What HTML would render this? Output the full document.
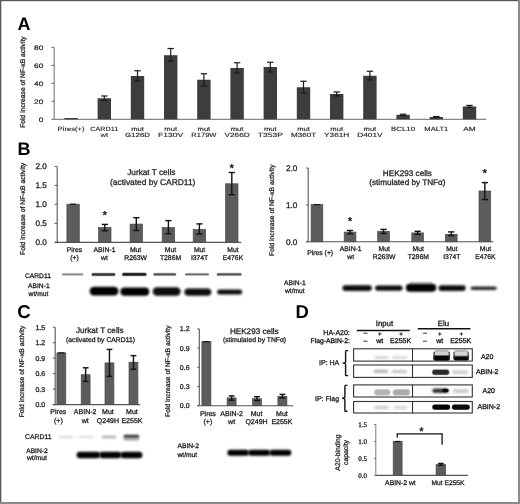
<!DOCTYPE html>
<html><head><meta charset="utf-8"><title>Figure</title>
<style>html,body{margin:0;padding:0;background:#fff;}body{width:520px;height:504px;overflow:hidden;}svg{display:block;}</style>
</head><body>
<svg width="520" height="504" viewBox="0 0 520 504" text-rendering="geometricPrecision" font-family='"Liberation Sans", Arial, Helvetica, sans-serif'>
<defs>
<filter id="b3" x="-30%" y="-150%" width="160%" height="400%"><feGaussianBlur stdDeviation="0.3"/></filter>
<filter id="b4" x="-30%" y="-150%" width="160%" height="400%"><feGaussianBlur stdDeviation="0.4"/></filter>
<filter id="b5" x="-30%" y="-150%" width="160%" height="400%"><feGaussianBlur stdDeviation="0.5"/></filter>
<filter id="b6" x="-30%" y="-150%" width="160%" height="400%"><feGaussianBlur stdDeviation="0.6"/></filter>
<filter id="b7" x="-30%" y="-150%" width="160%" height="400%"><feGaussianBlur stdDeviation="0.7"/></filter>
<filter id="b8" x="-30%" y="-150%" width="160%" height="400%"><feGaussianBlur stdDeviation="0.8"/></filter>
<filter id="b9" x="-30%" y="-150%" width="160%" height="400%"><feGaussianBlur stdDeviation="0.9"/></filter>
<filter id="b10" x="-30%" y="-150%" width="160%" height="400%"><feGaussianBlur stdDeviation="1.0"/></filter>
<filter id="b12" x="-30%" y="-150%" width="160%" height="400%"><feGaussianBlur stdDeviation="1.2"/></filter>
<filter id="b15" x="-30%" y="-150%" width="160%" height="400%"><feGaussianBlur stdDeviation="1.5"/></filter>
<filter id="b20" x="-30%" y="-150%" width="160%" height="400%"><feGaussianBlur stdDeviation="2.0"/></filter>
</defs>
<rect x="0.00" y="0.00" width="520.00" height="504.00" fill="#ffffff"/>
<rect x="0.00" y="0.00" width="520.00" height="1.20" fill="#555"/>
<rect x="0.00" y="0.00" width="1.30" height="504.00" fill="#555"/>
<rect x="518.00" y="0.00" width="2.00" height="504.00" fill="#8a8a8a"/>
<rect x="0.00" y="502.00" width="520.00" height="2.00" fill="#8a8a8a"/>
<text x="17.60" y="30.00" font-size="18" font-weight="bold" fill="#000">A</text>
<line x1="54.20" y1="47.40" x2="54.20" y2="119.30" stroke="#6a6a6a" stroke-width="1"/>
<line x1="54.20" y1="119.30" x2="486.30" y2="119.30" stroke="#6a6a6a" stroke-width="1"/>
<line x1="51.40" y1="119.30" x2="54.20" y2="119.30" stroke="#6a6a6a" stroke-width="1"/>
<text x="43.30" y="121.60" font-size="6.4" text-anchor="end" textLength="4.65" lengthAdjust="spacingAndGlyphs" fill="#222" stroke="#222" stroke-width="0.2">0</text>
<line x1="51.40" y1="101.32" x2="54.20" y2="101.32" stroke="#6a6a6a" stroke-width="1"/>
<text x="43.30" y="103.62" font-size="6.4" text-anchor="end" textLength="9.3" lengthAdjust="spacingAndGlyphs" fill="#222" stroke="#222" stroke-width="0.2">20</text>
<line x1="51.40" y1="83.35" x2="54.20" y2="83.35" stroke="#6a6a6a" stroke-width="1"/>
<text x="43.30" y="85.65" font-size="6.4" text-anchor="end" textLength="9.3" lengthAdjust="spacingAndGlyphs" fill="#222" stroke="#222" stroke-width="0.2">40</text>
<line x1="51.40" y1="65.38" x2="54.20" y2="65.38" stroke="#6a6a6a" stroke-width="1"/>
<text x="43.30" y="67.67" font-size="6.4" text-anchor="end" textLength="9.3" lengthAdjust="spacingAndGlyphs" fill="#222" stroke="#222" stroke-width="0.2">60</text>
<line x1="51.40" y1="47.40" x2="54.20" y2="47.40" stroke="#6a6a6a" stroke-width="1"/>
<text x="43.30" y="49.70" font-size="6.4" text-anchor="end" textLength="9.3" lengthAdjust="spacingAndGlyphs" fill="#222" stroke="#222" stroke-width="0.2">80</text>
<text transform="translate(23.4,82.1) rotate(-90)" x="0" y="0" font-size="6.75" text-anchor="middle" dominant-baseline="central" fill="#222" stroke="#222" stroke-width="0.28">Fold increase of NF-κB activity</text>
<rect x="64.40" y="118.00" width="13.40" height="1.30" fill="#3d3d3d"/>
<text x="71.10" y="131.20" font-size="6.1" text-anchor="middle" textLength="27" lengthAdjust="spacingAndGlyphs" fill="#222" stroke="#222" stroke-width="0.12">Pires(+)</text>
<rect x="97.60" y="98.25" width="13.40" height="21.05" fill="#3d3d3d"/>
<line x1="104.30" y1="96.00" x2="104.30" y2="100.50" stroke="#1a1a1a" stroke-width="1.2"/>
<line x1="101.10" y1="96.00" x2="107.50" y2="96.00" stroke="#1a1a1a" stroke-width="1.2"/>
<line x1="101.10" y1="100.50" x2="107.50" y2="100.50" stroke="#1a1a1a" stroke-width="1.2"/>
<text x="104.30" y="131.20" font-size="6.1" text-anchor="middle" textLength="28" lengthAdjust="spacingAndGlyphs" fill="#222" stroke="#222" stroke-width="0.12">CARD11</text>
<text x="104.30" y="136.90" font-size="6.1" text-anchor="middle" textLength="7.5" lengthAdjust="spacingAndGlyphs" fill="#222" stroke="#222" stroke-width="0.12">wt</text>
<rect x="130.80" y="76.00" width="13.40" height="43.30" fill="#3d3d3d"/>
<line x1="137.50" y1="70.75" x2="137.50" y2="81.00" stroke="#1a1a1a" stroke-width="1.2"/>
<line x1="134.30" y1="70.75" x2="140.70" y2="70.75" stroke="#1a1a1a" stroke-width="1.2"/>
<line x1="134.30" y1="81.00" x2="140.70" y2="81.00" stroke="#1a1a1a" stroke-width="1.2"/>
<text x="137.50" y="131.20" font-size="6.1" text-anchor="middle" textLength="12.7" lengthAdjust="spacingAndGlyphs" fill="#222" stroke="#222" stroke-width="0.12">mut</text>
<text x="137.50" y="136.90" font-size="6.1" text-anchor="middle" textLength="25.2" lengthAdjust="spacingAndGlyphs" fill="#222" stroke="#222" stroke-width="0.12">G126D</text>
<rect x="164.00" y="55.20" width="13.40" height="64.10" fill="#3d3d3d"/>
<line x1="170.70" y1="48.50" x2="170.70" y2="61.10" stroke="#1a1a1a" stroke-width="1.2"/>
<line x1="167.50" y1="48.50" x2="173.90" y2="48.50" stroke="#1a1a1a" stroke-width="1.2"/>
<line x1="167.50" y1="61.10" x2="173.90" y2="61.10" stroke="#1a1a1a" stroke-width="1.2"/>
<text x="170.70" y="131.20" font-size="6.1" text-anchor="middle" textLength="12.7" lengthAdjust="spacingAndGlyphs" fill="#222" stroke="#222" stroke-width="0.12">mut</text>
<text x="170.70" y="136.90" font-size="6.1" text-anchor="middle" textLength="25.2" lengthAdjust="spacingAndGlyphs" fill="#222" stroke="#222" stroke-width="0.12">F130V</text>
<rect x="197.20" y="79.75" width="13.40" height="39.55" fill="#3d3d3d"/>
<line x1="203.90" y1="73.75" x2="203.90" y2="86.00" stroke="#1a1a1a" stroke-width="1.2"/>
<line x1="200.70" y1="73.75" x2="207.10" y2="73.75" stroke="#1a1a1a" stroke-width="1.2"/>
<line x1="200.70" y1="86.00" x2="207.10" y2="86.00" stroke="#1a1a1a" stroke-width="1.2"/>
<text x="203.90" y="131.20" font-size="6.1" text-anchor="middle" textLength="12.7" lengthAdjust="spacingAndGlyphs" fill="#222" stroke="#222" stroke-width="0.12">mut</text>
<text x="203.90" y="136.90" font-size="6.1" text-anchor="middle" textLength="25.2" lengthAdjust="spacingAndGlyphs" fill="#222" stroke="#222" stroke-width="0.12">R179W</text>
<rect x="230.40" y="68.00" width="13.40" height="51.30" fill="#3d3d3d"/>
<line x1="237.10" y1="62.75" x2="237.10" y2="73.00" stroke="#1a1a1a" stroke-width="1.2"/>
<line x1="233.90" y1="62.75" x2="240.30" y2="62.75" stroke="#1a1a1a" stroke-width="1.2"/>
<line x1="233.90" y1="73.00" x2="240.30" y2="73.00" stroke="#1a1a1a" stroke-width="1.2"/>
<text x="237.10" y="131.20" font-size="6.1" text-anchor="middle" textLength="12.7" lengthAdjust="spacingAndGlyphs" fill="#222" stroke="#222" stroke-width="0.12">mut</text>
<text x="237.10" y="136.90" font-size="6.1" text-anchor="middle" textLength="25.2" lengthAdjust="spacingAndGlyphs" fill="#222" stroke="#222" stroke-width="0.12">V266D</text>
<rect x="263.60" y="67.00" width="13.40" height="52.30" fill="#3d3d3d"/>
<line x1="270.30" y1="62.25" x2="270.30" y2="72.00" stroke="#1a1a1a" stroke-width="1.2"/>
<line x1="267.10" y1="62.25" x2="273.50" y2="62.25" stroke="#1a1a1a" stroke-width="1.2"/>
<line x1="267.10" y1="72.00" x2="273.50" y2="72.00" stroke="#1a1a1a" stroke-width="1.2"/>
<text x="270.30" y="131.20" font-size="6.1" text-anchor="middle" textLength="12.7" lengthAdjust="spacingAndGlyphs" fill="#222" stroke="#222" stroke-width="0.12">mut</text>
<text x="270.30" y="136.90" font-size="6.1" text-anchor="middle" textLength="25.2" lengthAdjust="spacingAndGlyphs" fill="#222" stroke="#222" stroke-width="0.12">T353P</text>
<rect x="296.80" y="87.25" width="13.40" height="32.05" fill="#3d3d3d"/>
<line x1="303.50" y1="81.25" x2="303.50" y2="93.00" stroke="#1a1a1a" stroke-width="1.2"/>
<line x1="300.30" y1="81.25" x2="306.70" y2="81.25" stroke="#1a1a1a" stroke-width="1.2"/>
<line x1="300.30" y1="93.00" x2="306.70" y2="93.00" stroke="#1a1a1a" stroke-width="1.2"/>
<text x="303.50" y="131.20" font-size="6.1" text-anchor="middle" textLength="12.7" lengthAdjust="spacingAndGlyphs" fill="#222" stroke="#222" stroke-width="0.12">mut</text>
<text x="303.50" y="136.90" font-size="6.1" text-anchor="middle" textLength="25.2" lengthAdjust="spacingAndGlyphs" fill="#222" stroke="#222" stroke-width="0.12">M360T</text>
<rect x="330.00" y="94.00" width="13.40" height="25.30" fill="#3d3d3d"/>
<line x1="336.70" y1="92.00" x2="336.70" y2="96.00" stroke="#1a1a1a" stroke-width="1.2"/>
<line x1="333.50" y1="92.00" x2="339.90" y2="92.00" stroke="#1a1a1a" stroke-width="1.2"/>
<line x1="333.50" y1="96.00" x2="339.90" y2="96.00" stroke="#1a1a1a" stroke-width="1.2"/>
<text x="336.70" y="131.20" font-size="6.1" text-anchor="middle" textLength="12.7" lengthAdjust="spacingAndGlyphs" fill="#222" stroke="#222" stroke-width="0.12">mut</text>
<text x="336.70" y="136.90" font-size="6.1" text-anchor="middle" textLength="25.2" lengthAdjust="spacingAndGlyphs" fill="#222" stroke="#222" stroke-width="0.12">Y361H</text>
<rect x="363.20" y="75.75" width="13.40" height="43.55" fill="#3d3d3d"/>
<line x1="369.90" y1="71.25" x2="369.90" y2="80.00" stroke="#1a1a1a" stroke-width="1.2"/>
<line x1="366.70" y1="71.25" x2="373.10" y2="71.25" stroke="#1a1a1a" stroke-width="1.2"/>
<line x1="366.70" y1="80.00" x2="373.10" y2="80.00" stroke="#1a1a1a" stroke-width="1.2"/>
<text x="369.90" y="131.20" font-size="6.1" text-anchor="middle" textLength="12.7" lengthAdjust="spacingAndGlyphs" fill="#222" stroke="#222" stroke-width="0.12">mut</text>
<text x="369.90" y="136.90" font-size="6.1" text-anchor="middle" textLength="25.2" lengthAdjust="spacingAndGlyphs" fill="#222" stroke="#222" stroke-width="0.12">D401V</text>
<rect x="396.40" y="114.80" width="13.40" height="4.50" fill="#3d3d3d"/>
<line x1="403.10" y1="114.20" x2="403.10" y2="115.60" stroke="#1a1a1a" stroke-width="1.2"/>
<line x1="399.90" y1="114.20" x2="406.30" y2="114.20" stroke="#1a1a1a" stroke-width="1.2"/>
<line x1="399.90" y1="115.60" x2="406.30" y2="115.60" stroke="#1a1a1a" stroke-width="1.2"/>
<text x="403.10" y="131.20" font-size="6.1" text-anchor="middle" textLength="24" lengthAdjust="spacingAndGlyphs" fill="#222" stroke="#222" stroke-width="0.12">BCL10</text>
<rect x="429.60" y="117.00" width="13.40" height="2.30" fill="#3d3d3d"/>
<line x1="436.30" y1="116.50" x2="436.30" y2="117.40" stroke="#1a1a1a" stroke-width="1.2"/>
<line x1="433.10" y1="116.50" x2="439.50" y2="116.50" stroke="#1a1a1a" stroke-width="1.2"/>
<line x1="433.10" y1="117.40" x2="439.50" y2="117.40" stroke="#1a1a1a" stroke-width="1.2"/>
<text x="436.30" y="131.20" font-size="6.1" text-anchor="middle" textLength="24" lengthAdjust="spacingAndGlyphs" fill="#222" stroke="#222" stroke-width="0.12">MALT1</text>
<rect x="462.80" y="106.50" width="13.40" height="12.80" fill="#3d3d3d"/>
<line x1="469.50" y1="105.40" x2="469.50" y2="107.40" stroke="#1a1a1a" stroke-width="1.2"/>
<line x1="466.30" y1="105.40" x2="472.70" y2="105.40" stroke="#1a1a1a" stroke-width="1.2"/>
<line x1="466.30" y1="107.40" x2="472.70" y2="107.40" stroke="#1a1a1a" stroke-width="1.2"/>
<text x="469.50" y="131.20" font-size="6.1" text-anchor="middle" textLength="12.5" lengthAdjust="spacingAndGlyphs" fill="#222" stroke="#222" stroke-width="0.12">AM</text>
<text x="17.60" y="154.70" font-size="18" font-weight="bold" fill="#000">B</text>
<line x1="57.20" y1="166.40" x2="57.20" y2="242.30" stroke="#555" stroke-width="1.1"/>
<line x1="54.60" y1="242.30" x2="241.20" y2="242.30" stroke="#555" stroke-width="1.2"/>
<line x1="54.60" y1="242.30" x2="57.20" y2="242.30" stroke="#555" stroke-width="1"/>
<text x="46.90" y="245.20" font-size="8.2" text-anchor="end" fill="#222" stroke="#222" stroke-width="0.28">0.0</text>
<line x1="54.60" y1="223.33" x2="57.20" y2="223.33" stroke="#555" stroke-width="1"/>
<text x="46.90" y="226.23" font-size="8.2" text-anchor="end" fill="#222" stroke="#222" stroke-width="0.28">0.5</text>
<line x1="54.60" y1="204.35" x2="57.20" y2="204.35" stroke="#555" stroke-width="1"/>
<text x="46.90" y="207.25" font-size="8.2" text-anchor="end" fill="#222" stroke="#222" stroke-width="0.28">1.0</text>
<line x1="54.60" y1="185.38" x2="57.20" y2="185.38" stroke="#555" stroke-width="1"/>
<text x="46.90" y="188.28" font-size="8.2" text-anchor="end" fill="#222" stroke="#222" stroke-width="0.28">1.5</text>
<line x1="54.60" y1="166.40" x2="57.20" y2="166.40" stroke="#555" stroke-width="1"/>
<text x="46.90" y="169.30" font-size="8.2" text-anchor="end" fill="#222" stroke="#222" stroke-width="0.28">2.0</text>
<text transform="translate(23.3,208.9) rotate(-90)" x="0" y="0" font-size="6.8" text-anchor="middle" dominant-baseline="central" fill="#222" stroke="#222" stroke-width="0.28">Fold increase of NF-κB activity</text>
<text x="151.30" y="175.20" font-size="8.24" text-anchor="middle" fill="#222" stroke="#222" stroke-width="0.28">Jurkat T cells</text>
<text x="152.70" y="184.60" font-size="8.42" text-anchor="middle" fill="#222" stroke="#222" stroke-width="0.28">(activated by CARD11)</text>
<rect x="66.90" y="204.20" width="12.40" height="38.10" fill="#5c5c5c" stroke="#4a4a4a" stroke-width="0.7"/>
<line x1="70.10" y1="204.20" x2="76.10" y2="204.20" stroke="#111" stroke-width="1.2"/>
<text x="74.50" y="251.80" font-size="6.8" text-anchor="middle" fill="#222" stroke="#222" stroke-width="0.28">Pires</text>
<text x="74.50" y="259.70" font-size="6.8" text-anchor="middle" fill="#222" stroke="#222" stroke-width="0.28">(+)</text>
<rect x="98.60" y="227.50" width="12.40" height="14.80" fill="#5c5c5c" stroke="#4a4a4a" stroke-width="0.7"/>
<line x1="104.80" y1="224.40" x2="104.80" y2="230.80" stroke="#111" stroke-width="1.4"/>
<line x1="101.70" y1="224.40" x2="107.90" y2="224.40" stroke="#111" stroke-width="1.4"/>
<line x1="101.70" y1="230.80" x2="107.90" y2="230.80" stroke="#111" stroke-width="1.4"/>
<text x="104.80" y="218.51" font-size="11.5" text-anchor="middle" fill="#111" stroke="#111" stroke-width="0.35">*</text>
<text x="104.50" y="251.80" font-size="6.8" text-anchor="middle" fill="#222" stroke="#222" stroke-width="0.28">ABIN-1</text>
<text x="104.50" y="259.70" font-size="6.8" text-anchor="middle" fill="#222" stroke="#222" stroke-width="0.28">wt</text>
<rect x="130.10" y="224.10" width="12.40" height="18.20" fill="#5c5c5c" stroke="#4a4a4a" stroke-width="0.7"/>
<line x1="136.30" y1="217.70" x2="136.30" y2="230.50" stroke="#111" stroke-width="1.4"/>
<line x1="133.20" y1="217.70" x2="139.40" y2="217.70" stroke="#111" stroke-width="1.4"/>
<line x1="133.20" y1="230.50" x2="139.40" y2="230.50" stroke="#111" stroke-width="1.4"/>
<text x="135.60" y="251.80" font-size="6.8" text-anchor="middle" fill="#222" stroke="#222" stroke-width="0.28">Mut</text>
<text x="135.60" y="259.70" font-size="6.8" text-anchor="middle" fill="#222" stroke="#222" stroke-width="0.28">R263W</text>
<rect x="162.20" y="227.50" width="12.40" height="14.80" fill="#5c5c5c" stroke="#4a4a4a" stroke-width="0.7"/>
<line x1="168.40" y1="220.60" x2="168.40" y2="233.70" stroke="#111" stroke-width="1.4"/>
<line x1="165.30" y1="220.60" x2="171.50" y2="220.60" stroke="#111" stroke-width="1.4"/>
<line x1="165.30" y1="233.70" x2="171.50" y2="233.70" stroke="#111" stroke-width="1.4"/>
<text x="170.50" y="251.80" font-size="6.8" text-anchor="middle" fill="#222" stroke="#222" stroke-width="0.28">Mut</text>
<text x="170.50" y="259.70" font-size="6.8" text-anchor="middle" fill="#222" stroke="#222" stroke-width="0.28">T286M</text>
<rect x="193.20" y="229.40" width="12.40" height="12.90" fill="#5c5c5c" stroke="#4a4a4a" stroke-width="0.7"/>
<line x1="199.40" y1="223.90" x2="199.40" y2="234.00" stroke="#111" stroke-width="1.4"/>
<line x1="196.30" y1="223.90" x2="202.50" y2="223.90" stroke="#111" stroke-width="1.4"/>
<line x1="196.30" y1="234.00" x2="202.50" y2="234.00" stroke="#111" stroke-width="1.4"/>
<text x="199.60" y="251.80" font-size="6.8" text-anchor="middle" fill="#222" stroke="#222" stroke-width="0.28">Mut</text>
<text x="199.60" y="259.70" font-size="6.8" text-anchor="middle" fill="#222" stroke="#222" stroke-width="0.28">I374T</text>
<rect x="225.60" y="183.80" width="12.40" height="58.50" fill="#5c5c5c" stroke="#4a4a4a" stroke-width="0.7"/>
<line x1="231.80" y1="172.50" x2="231.80" y2="194.70" stroke="#111" stroke-width="1.4"/>
<line x1="228.70" y1="172.50" x2="234.90" y2="172.50" stroke="#111" stroke-width="1.4"/>
<line x1="228.70" y1="194.70" x2="234.90" y2="194.70" stroke="#111" stroke-width="1.4"/>
<text x="231.80" y="171.81" font-size="11.5" text-anchor="middle" fill="#111" stroke="#111" stroke-width="0.35">*</text>
<text x="233.00" y="251.80" font-size="6.8" text-anchor="middle" fill="#222" stroke="#222" stroke-width="0.28">Mut</text>
<text x="233.00" y="259.70" font-size="6.8" text-anchor="middle" fill="#222" stroke="#222" stroke-width="0.28">E476K</text>
<text x="25.00" y="277.90" font-size="6.7" fill="#222" stroke="#222" stroke-width="0.28">CARD11</text>
<text x="28.10" y="287.90" font-size="6.7" fill="#222" stroke="#222" stroke-width="0.28">ABIN-1</text>
<text x="28.60" y="295.60" font-size="6.7" fill="#222" stroke="#222" stroke-width="0.28">wt/mut</text>
<rect x="61.50" y="272.70" width="22.20" height="3.40" rx="1.70" fill="#888" opacity="0.22"/>
<rect x="61.90" y="273.20" width="21.40" height="2.40" rx="1.20" fill="#888" opacity="0.45"/>
<rect x="62.30" y="273.70" width="20.60" height="1.40" rx="0.70" fill="#888" opacity="1.00"/>
<rect x="91.10" y="272.40" width="24.70" height="4.00" rx="2.00" fill="#333" opacity="0.22"/>
<rect x="91.50" y="272.90" width="23.90" height="3.00" rx="1.50" fill="#333" opacity="0.45"/>
<rect x="91.90" y="273.40" width="23.10" height="2.00" rx="1.00" fill="#333" opacity="1.00"/>
<rect x="121.70" y="272.30" width="25.30" height="4.20" rx="2.10" fill="#1a1a1a" opacity="0.22"/>
<rect x="122.10" y="272.80" width="24.50" height="3.20" rx="1.60" fill="#1a1a1a" opacity="0.45"/>
<rect x="122.50" y="273.30" width="23.70" height="2.20" rx="1.10" fill="#1a1a1a" opacity="1.00"/>
<rect x="152.90" y="272.60" width="23.70" height="3.60" rx="1.80" fill="#555" opacity="0.22"/>
<rect x="153.30" y="273.10" width="22.90" height="2.60" rx="1.30" fill="#555" opacity="0.45"/>
<rect x="153.70" y="273.60" width="22.10" height="1.60" rx="0.80" fill="#555" opacity="1.00"/>
<rect x="184.60" y="272.70" width="24.70" height="3.40" rx="1.70" fill="#666" opacity="0.22"/>
<rect x="185.00" y="273.20" width="23.90" height="2.40" rx="1.20" fill="#666" opacity="0.45"/>
<rect x="185.40" y="273.70" width="23.10" height="1.40" rx="0.70" fill="#666" opacity="1.00"/>
<rect x="216.30" y="272.55" width="25.70" height="3.70" rx="1.85" fill="#555" opacity="0.22"/>
<rect x="216.70" y="273.05" width="24.90" height="2.70" rx="1.35" fill="#555" opacity="0.45"/>
<rect x="217.10" y="273.55" width="24.10" height="1.70" rx="0.85" fill="#555" opacity="1.00"/>
<rect x="89.60" y="286.70" width="28.90" height="8.80" rx="4.40" fill="#050505" opacity="1" filter="url(#b8)"/>
<rect x="120.40" y="287.60" width="28.80" height="8.20" rx="4.10" fill="#050505" opacity="1" filter="url(#b8)"/>
<rect x="152.70" y="287.30" width="27.90" height="8.40" rx="4.20" fill="#0a0a0a" opacity="1" filter="url(#b8)"/>
<rect x="184.40" y="288.50" width="26.90" height="7.20" rx="3.60" fill="#0d0d0d" opacity="1" filter="url(#b8)"/>
<rect x="217.10" y="289.40" width="25.00" height="5.00" rx="2.50" fill="#111" opacity="1" filter="url(#b8)"/>
<line x1="308.20" y1="168.00" x2="308.20" y2="241.80" stroke="#555" stroke-width="1.1"/>
<line x1="306.20" y1="241.80" x2="493.30" y2="241.80" stroke="#555" stroke-width="1.1"/>
<line x1="306.20" y1="241.80" x2="308.20" y2="241.80" stroke="#555" stroke-width="1"/>
<text x="297.40" y="244.70" font-size="8.2" text-anchor="end" fill="#222" stroke="#222" stroke-width="0.28">0.0</text>
<line x1="306.20" y1="204.90" x2="308.20" y2="204.90" stroke="#555" stroke-width="1"/>
<text x="297.40" y="207.80" font-size="8.2" text-anchor="end" fill="#222" stroke="#222" stroke-width="0.28">1.0</text>
<line x1="306.20" y1="168.00" x2="308.20" y2="168.00" stroke="#555" stroke-width="1"/>
<text x="297.40" y="170.90" font-size="8.2" text-anchor="end" fill="#222" stroke="#222" stroke-width="0.28">2.0</text>
<text transform="translate(272.5,210.2) rotate(-90)" x="0" y="0" font-size="6.75" text-anchor="middle" dominant-baseline="central" fill="#222" stroke="#222" stroke-width="0.28">Fold increase of NF-κB activity</text>
<text x="407.40" y="175.50" font-size="8.18" text-anchor="middle" fill="#222" stroke="#222" stroke-width="0.28">HEK293 cells</text>
<text x="407.40" y="185.20" font-size="8.16" text-anchor="middle" fill="#222" stroke="#222" stroke-width="0.28">(stimulated by TNFα)</text>
<rect x="311.10" y="204.60" width="11.70" height="37.20" fill="#5c5c5c" stroke="#4a4a4a" stroke-width="0.7"/>
<line x1="313.95" y1="204.60" x2="319.95" y2="204.60" stroke="#111" stroke-width="1.2"/>
<text x="320.20" y="254.90" font-size="6.8" text-anchor="middle" fill="#222" stroke="#222" stroke-width="0.28">Pires (+)</text>
<rect x="344.20" y="232.10" width="11.70" height="9.70" fill="#5c5c5c" stroke="#4a4a4a" stroke-width="0.7"/>
<line x1="350.05" y1="230.50" x2="350.05" y2="233.80" stroke="#111" stroke-width="1.4"/>
<line x1="346.95" y1="230.50" x2="353.15" y2="230.50" stroke="#111" stroke-width="1.4"/>
<line x1="346.95" y1="233.80" x2="353.15" y2="233.80" stroke="#111" stroke-width="1.4"/>
<text x="350.05" y="224.51" font-size="11.5" text-anchor="middle" fill="#111" stroke="#111" stroke-width="0.35">*</text>
<text x="350.65" y="250.50" font-size="6.8" text-anchor="middle" fill="#222" stroke="#222" stroke-width="0.28">ABIN-1</text>
<text x="350.65" y="258.80" font-size="6.8" text-anchor="middle" fill="#222" stroke="#222" stroke-width="0.28">wt</text>
<rect x="377.70" y="231.30" width="11.70" height="10.50" fill="#5c5c5c" stroke="#4a4a4a" stroke-width="0.7"/>
<line x1="383.55" y1="229.40" x2="383.55" y2="233.50" stroke="#111" stroke-width="1.4"/>
<line x1="380.45" y1="229.40" x2="386.65" y2="229.40" stroke="#111" stroke-width="1.4"/>
<line x1="380.45" y1="233.50" x2="386.65" y2="233.50" stroke="#111" stroke-width="1.4"/>
<text x="384.15" y="250.50" font-size="6.8" text-anchor="middle" fill="#222" stroke="#222" stroke-width="0.28">Mut</text>
<text x="384.15" y="258.80" font-size="6.8" text-anchor="middle" fill="#222" stroke="#222" stroke-width="0.28">R263W</text>
<rect x="411.80" y="232.90" width="11.70" height="8.90" fill="#5c5c5c" stroke="#4a4a4a" stroke-width="0.7"/>
<line x1="417.65" y1="231.30" x2="417.65" y2="234.30" stroke="#111" stroke-width="1.4"/>
<line x1="414.55" y1="231.30" x2="420.75" y2="231.30" stroke="#111" stroke-width="1.4"/>
<line x1="414.55" y1="234.30" x2="420.75" y2="234.30" stroke="#111" stroke-width="1.4"/>
<text x="418.25" y="250.50" font-size="6.8" text-anchor="middle" fill="#222" stroke="#222" stroke-width="0.28">Mut</text>
<text x="418.25" y="258.80" font-size="6.8" text-anchor="middle" fill="#222" stroke="#222" stroke-width="0.28">T286M</text>
<rect x="445.40" y="234.30" width="11.70" height="7.50" fill="#5c5c5c" stroke="#4a4a4a" stroke-width="0.7"/>
<line x1="451.25" y1="231.90" x2="451.25" y2="235.60" stroke="#111" stroke-width="1.4"/>
<line x1="448.15" y1="231.90" x2="454.35" y2="231.90" stroke="#111" stroke-width="1.4"/>
<line x1="448.15" y1="235.60" x2="454.35" y2="235.60" stroke="#111" stroke-width="1.4"/>
<text x="451.85" y="250.50" font-size="6.8" text-anchor="middle" fill="#222" stroke="#222" stroke-width="0.28">Mut</text>
<text x="451.85" y="258.80" font-size="6.8" text-anchor="middle" fill="#222" stroke="#222" stroke-width="0.28">I374T</text>
<rect x="479.00" y="191.00" width="11.70" height="50.80" fill="#5c5c5c" stroke="#4a4a4a" stroke-width="0.7"/>
<line x1="484.85" y1="182.60" x2="484.85" y2="199.60" stroke="#111" stroke-width="1.4"/>
<line x1="481.75" y1="182.60" x2="487.95" y2="182.60" stroke="#111" stroke-width="1.4"/>
<line x1="481.75" y1="199.60" x2="487.95" y2="199.60" stroke="#111" stroke-width="1.4"/>
<text x="484.85" y="176.91" font-size="11.5" text-anchor="middle" fill="#111" stroke="#111" stroke-width="0.35">*</text>
<text x="485.45" y="250.50" font-size="6.8" text-anchor="middle" fill="#222" stroke="#222" stroke-width="0.28">Mut</text>
<text x="485.45" y="258.80" font-size="6.8" text-anchor="middle" fill="#222" stroke="#222" stroke-width="0.28">E476K</text>
<text x="284.10" y="284.80" font-size="6.7" fill="#222" stroke="#222" stroke-width="0.28">ABIN-1</text>
<text x="285.00" y="293.20" font-size="6.7" fill="#222" stroke="#222" stroke-width="0.28">wt/mut</text>
<rect x="409.20" y="280.75" width="23.60" height="4.50" rx="2.25" fill="#d8d8d8" opacity="0.18"/>
<rect x="409.60" y="281.25" width="22.80" height="3.50" rx="1.75" fill="#d8d8d8" opacity="0.36"/>
<rect x="410.00" y="281.75" width="22.00" height="2.50" rx="1.25" fill="#d8d8d8" opacity="0.80"/>
<rect x="342.40" y="285.30" width="29.40" height="5.60" rx="2.80" fill="#080808" opacity="1" filter="url(#b8)"/>
<rect x="375.10" y="285.50" width="27.50" height="5.20" rx="2.60" fill="#0d0d0d" opacity="1" filter="url(#b8)"/>
<rect x="405.80" y="283.80" width="30.40" height="8.00" rx="4.00" fill="#050505" opacity="1" filter="url(#b8)"/>
<rect x="438.50" y="285.30" width="27.20" height="5.60" rx="2.80" fill="#0d0d0d" opacity="1" filter="url(#b8)"/>
<rect x="470.60" y="286.40" width="26.10" height="3.60" rx="1.80" fill="#2a2a2a" opacity="1" filter="url(#b8)"/>
<text x="17.20" y="318.30" font-size="18.6" font-weight="bold" fill="#000">C</text>
<line x1="55.20" y1="327.20" x2="55.20" y2="404.60" stroke="#555" stroke-width="1.1"/>
<line x1="52.80" y1="404.60" x2="140.10" y2="404.60" stroke="#555" stroke-width="1.1"/>
<line x1="52.80" y1="404.60" x2="55.20" y2="404.60" stroke="#555" stroke-width="1"/>
<text x="45.20" y="407.10" font-size="7.0" text-anchor="end" fill="#222" stroke="#222" stroke-width="0.28">0.0</text>
<line x1="52.80" y1="389.12" x2="55.20" y2="389.12" stroke="#555" stroke-width="1"/>
<text x="45.20" y="391.62" font-size="7.0" text-anchor="end" fill="#222" stroke="#222" stroke-width="0.28">0.3</text>
<line x1="52.80" y1="373.64" x2="55.20" y2="373.64" stroke="#555" stroke-width="1"/>
<text x="45.20" y="376.14" font-size="7.0" text-anchor="end" fill="#222" stroke="#222" stroke-width="0.28">0.6</text>
<line x1="52.80" y1="358.16" x2="55.20" y2="358.16" stroke="#555" stroke-width="1"/>
<text x="45.20" y="360.66" font-size="7.0" text-anchor="end" fill="#222" stroke="#222" stroke-width="0.28">0.9</text>
<line x1="52.80" y1="342.68" x2="55.20" y2="342.68" stroke="#555" stroke-width="1"/>
<text x="45.20" y="345.18" font-size="7.0" text-anchor="end" fill="#222" stroke="#222" stroke-width="0.28">1.2</text>
<line x1="52.80" y1="327.20" x2="55.20" y2="327.20" stroke="#555" stroke-width="1"/>
<text x="45.20" y="329.70" font-size="7.0" text-anchor="end" fill="#222" stroke="#222" stroke-width="0.28">1.5</text>
<text transform="translate(22.9,371.5) rotate(-90)" x="0" y="0" font-size="6.75" text-anchor="middle" dominant-baseline="central" fill="#222" stroke="#222" stroke-width="0.28">Fold increase of NF-κB activity</text>
<text x="99.80" y="333.10" font-size="8.13" text-anchor="middle" fill="#222" stroke="#222" stroke-width="0.28">Jurkat T cells</text>
<text x="100.50" y="341.90" font-size="6.8" text-anchor="middle" fill="#222" stroke="#222" stroke-width="0.28">(activated by CARD11)</text>
<rect x="56.90" y="352.90" width="8.90" height="51.70" fill="#5c5c5c" stroke="#4a4a4a" stroke-width="0.7"/>
<line x1="58.15" y1="352.90" x2="64.55" y2="352.90" stroke="#111" stroke-width="1.2"/>
<text x="58.35" y="414.20" font-size="7" text-anchor="middle" fill="#222" stroke="#222" stroke-width="0.28">Pires</text>
<text x="58.35" y="422.60" font-size="7" text-anchor="middle" fill="#222" stroke="#222" stroke-width="0.28">(+)</text>
<rect x="81.20" y="374.70" width="8.90" height="29.90" fill="#5c5c5c" stroke="#4a4a4a" stroke-width="0.7"/>
<line x1="85.65" y1="367.80" x2="85.65" y2="381.40" stroke="#111" stroke-width="1.4"/>
<line x1="82.75" y1="367.80" x2="88.55" y2="367.80" stroke="#111" stroke-width="1.4"/>
<line x1="82.75" y1="381.40" x2="88.55" y2="381.40" stroke="#111" stroke-width="1.4"/>
<text x="85.15" y="414.20" font-size="7" text-anchor="middle" fill="#222" stroke="#222" stroke-width="0.28">ABIN-2</text>
<text x="85.15" y="422.60" font-size="7" text-anchor="middle" fill="#222" stroke="#222" stroke-width="0.28">wt</text>
<rect x="105.00" y="362.90" width="8.90" height="41.70" fill="#5c5c5c" stroke="#4a4a4a" stroke-width="0.7"/>
<line x1="109.45" y1="349.40" x2="109.45" y2="376.40" stroke="#111" stroke-width="1.4"/>
<line x1="106.55" y1="349.40" x2="112.35" y2="349.40" stroke="#111" stroke-width="1.4"/>
<line x1="106.55" y1="376.40" x2="112.35" y2="376.40" stroke="#111" stroke-width="1.4"/>
<text x="107.95" y="414.20" font-size="7" text-anchor="middle" fill="#222" stroke="#222" stroke-width="0.28">Mut</text>
<text x="107.95" y="422.60" font-size="7" text-anchor="middle" fill="#222" stroke="#222" stroke-width="0.28">Q249H</text>
<rect x="129.00" y="362.20" width="8.90" height="42.40" fill="#5c5c5c" stroke="#4a4a4a" stroke-width="0.7"/>
<line x1="133.45" y1="355.60" x2="133.45" y2="369.20" stroke="#111" stroke-width="1.4"/>
<line x1="130.55" y1="355.60" x2="136.35" y2="355.60" stroke="#111" stroke-width="1.4"/>
<line x1="130.55" y1="369.20" x2="136.35" y2="369.20" stroke="#111" stroke-width="1.4"/>
<text x="131.95" y="414.20" font-size="7" text-anchor="middle" fill="#222" stroke="#222" stroke-width="0.28">Mut</text>
<text x="131.95" y="422.60" font-size="7" text-anchor="middle" fill="#222" stroke="#222" stroke-width="0.28">E255K</text>
<text x="25.00" y="438.80" font-size="6.9" fill="#222" stroke="#222" stroke-width="0.28">CARD11</text>
<text x="26.20" y="452.50" font-size="6.7" fill="#222" stroke="#222" stroke-width="0.28">ABIN-2</text>
<text x="26.90" y="460.30" font-size="6.8" fill="#222" stroke="#222" stroke-width="0.28">wt/mut</text>
<rect x="58.70" y="436.00" width="14.60" height="2.00" rx="1.00" fill="#ccc" opacity="0.8" filter="url(#b8)"/>
<rect x="78.80" y="436.00" width="15.50" height="2.00" rx="1.00" fill="#ccc" opacity="0.7" filter="url(#b8)"/>
<rect x="101.60" y="435.70" width="14.60" height="2.60" rx="1.30" fill="#999" opacity="0.8" filter="url(#b8)"/>
<rect x="123.60" y="434.80" width="15.50" height="3.40" rx="1.70" fill="#222" opacity="0.9" filter="url(#b8)"/>
<rect x="123.60" y="437.50" width="15.50" height="3.00" rx="1.50" fill="#888" opacity="0.7" filter="url(#b8)"/>
<rect x="76.60" y="451.70" width="23.60" height="6.60" rx="3.30" fill="#050505" opacity="1" filter="url(#b8)"/>
<rect x="99.30" y="451.70" width="22.10" height="6.60" rx="3.30" fill="#050505" opacity="1" filter="url(#b8)"/>
<rect x="120.50" y="451.70" width="21.90" height="6.60" rx="3.30" fill="#050505" opacity="1" filter="url(#b8)"/>
<line x1="199.30" y1="328.90" x2="199.30" y2="405.70" stroke="#555" stroke-width="1.1"/>
<line x1="197.30" y1="405.70" x2="293.30" y2="405.70" stroke="#555" stroke-width="1.1"/>
<line x1="197.30" y1="405.70" x2="199.30" y2="405.70" stroke="#555" stroke-width="1"/>
<text x="189.60" y="408.20" font-size="7.0" text-anchor="end" fill="#222" stroke="#222" stroke-width="0.28">0.0</text>
<line x1="197.30" y1="386.50" x2="199.30" y2="386.50" stroke="#555" stroke-width="1"/>
<text x="189.60" y="389.00" font-size="7.0" text-anchor="end" fill="#222" stroke="#222" stroke-width="0.28">0.3</text>
<line x1="197.30" y1="367.30" x2="199.30" y2="367.30" stroke="#555" stroke-width="1"/>
<text x="189.60" y="369.80" font-size="7.0" text-anchor="end" fill="#222" stroke="#222" stroke-width="0.28">0.6</text>
<line x1="197.30" y1="348.10" x2="199.30" y2="348.10" stroke="#555" stroke-width="1"/>
<text x="189.60" y="350.60" font-size="7.0" text-anchor="end" fill="#222" stroke="#222" stroke-width="0.28">0.9</text>
<line x1="197.30" y1="328.90" x2="199.30" y2="328.90" stroke="#555" stroke-width="1"/>
<text x="189.60" y="331.40" font-size="7.0" text-anchor="end" fill="#222" stroke="#222" stroke-width="0.28">1.2</text>
<text transform="translate(168.8,371.2) rotate(-90)" x="0" y="0" font-size="6.75" text-anchor="middle" dominant-baseline="central" fill="#222" stroke="#222" stroke-width="0.28">Fold increase of NF-κB activity</text>
<text x="254.30" y="333.50" font-size="8.14" text-anchor="middle" fill="#222" stroke="#222" stroke-width="0.28">HEK293 cells</text>
<text x="254.50" y="342.00" font-size="6.78" text-anchor="middle" fill="#222" stroke="#222" stroke-width="0.28">(stimulated by TNFα)</text>
<rect x="201.90" y="341.70" width="9.00" height="64.00" fill="#5c5c5c" stroke="#4a4a4a" stroke-width="0.7"/>
<line x1="203.20" y1="341.70" x2="209.60" y2="341.70" stroke="#111" stroke-width="1.2"/>
<text x="207.90" y="415.60" font-size="7" text-anchor="middle" fill="#222" stroke="#222" stroke-width="0.28">Pires</text>
<text x="207.90" y="423.80" font-size="7" text-anchor="middle" fill="#222" stroke="#222" stroke-width="0.28">(+)</text>
<rect x="227.10" y="397.90" width="9.00" height="7.80" fill="#5c5c5c" stroke="#4a4a4a" stroke-width="0.7"/>
<line x1="231.60" y1="395.90" x2="231.60" y2="400.20" stroke="#111" stroke-width="1.4"/>
<line x1="228.70" y1="395.90" x2="234.50" y2="395.90" stroke="#111" stroke-width="1.4"/>
<line x1="228.70" y1="400.20" x2="234.50" y2="400.20" stroke="#111" stroke-width="1.4"/>
<text x="231.60" y="415.60" font-size="7" text-anchor="middle" fill="#222" stroke="#222" stroke-width="0.28">ABIN-2</text>
<text x="231.60" y="423.80" font-size="7" text-anchor="middle" fill="#222" stroke="#222" stroke-width="0.28">wt</text>
<rect x="252.50" y="398.70" width="9.00" height="7.00" fill="#5c5c5c" stroke="#4a4a4a" stroke-width="0.7"/>
<line x1="257.00" y1="396.70" x2="257.00" y2="400.50" stroke="#111" stroke-width="1.4"/>
<line x1="254.10" y1="396.70" x2="259.90" y2="396.70" stroke="#111" stroke-width="1.4"/>
<line x1="254.10" y1="400.50" x2="259.90" y2="400.50" stroke="#111" stroke-width="1.4"/>
<text x="256.50" y="415.60" font-size="7" text-anchor="middle" fill="#222" stroke="#222" stroke-width="0.28">Mut</text>
<text x="256.50" y="423.80" font-size="7" text-anchor="middle" fill="#222" stroke="#222" stroke-width="0.28">Q249H</text>
<rect x="277.90" y="396.40" width="9.00" height="9.30" fill="#5c5c5c" stroke="#4a4a4a" stroke-width="0.7"/>
<line x1="282.40" y1="394.40" x2="282.40" y2="397.90" stroke="#111" stroke-width="1.4"/>
<line x1="279.50" y1="394.40" x2="285.30" y2="394.40" stroke="#111" stroke-width="1.4"/>
<line x1="279.50" y1="397.90" x2="285.30" y2="397.90" stroke="#111" stroke-width="1.4"/>
<text x="281.90" y="415.60" font-size="7" text-anchor="middle" fill="#222" stroke="#222" stroke-width="0.28">Mut</text>
<text x="281.90" y="423.80" font-size="7" text-anchor="middle" fill="#222" stroke="#222" stroke-width="0.28">E255K</text>
<text x="177.50" y="448.30" font-size="6.7" fill="#222" stroke="#222" stroke-width="0.28">ABIN-2</text>
<text x="177.50" y="456.90" font-size="6.7" fill="#222" stroke="#222" stroke-width="0.28">wt/mut</text>
<rect x="227.30" y="449.80" width="21.70" height="6.00" rx="3.00" fill="#050505" opacity="1" filter="url(#b8)"/>
<rect x="248.20" y="449.80" width="22.10" height="6.00" rx="3.00" fill="#050505" opacity="1" filter="url(#b8)"/>
<rect x="269.50" y="449.80" width="21.90" height="6.00" rx="3.00" fill="#050505" opacity="1" filter="url(#b8)"/>
<text x="295.60" y="317.90" font-size="18.5" font-weight="bold" fill="#000">D</text>
<text x="384.40" y="326.40" font-size="7.8" text-anchor="middle" fill="#111" stroke="#111" stroke-width="0.28">Input</text>
<text x="443.50" y="326.00" font-size="7.8" text-anchor="middle" fill="#111" stroke="#111" stroke-width="0.28">Elu</text>
<line x1="356.70" y1="330.50" x2="409.80" y2="330.50" stroke="#111" stroke-width="1.5"/>
<line x1="417.80" y1="328.80" x2="470.40" y2="328.80" stroke="#111" stroke-width="1.5"/>
<text x="349.80" y="335.20" font-size="7" text-anchor="end" fill="#111" stroke="#111" stroke-width="0.28">HA-A20:</text>
<text x="349.80" y="343.40" font-size="6.8" text-anchor="end" fill="#111" stroke="#111" stroke-width="0.28">Flag-ABIN-2:</text>
<text x="365.40" y="335.20" font-size="7" text-anchor="middle" fill="#111" stroke="#111" stroke-width="0.28">–</text>
<text x="379.80" y="335.60" font-size="6.2" text-anchor="middle" fill="#111" stroke="#111" stroke-width="0.28">+</text>
<text x="401.10" y="335.60" font-size="6.2" text-anchor="middle" fill="#111" stroke="#111" stroke-width="0.28">+</text>
<text x="365.40" y="342.60" font-size="7" text-anchor="middle" fill="#111" stroke="#111" stroke-width="0.28">–</text>
<text x="379.80" y="343.40" font-size="7" text-anchor="middle" fill="#111" stroke="#111" stroke-width="0.28">wt</text>
<text x="400.60" y="343.40" font-size="7" text-anchor="middle" fill="#111" stroke="#111" stroke-width="0.28">E255K</text>
<text x="425.00" y="335.20" font-size="7" text-anchor="middle" fill="#111" stroke="#111" stroke-width="0.28">–</text>
<text x="439.70" y="335.60" font-size="6.2" text-anchor="middle" fill="#111" stroke="#111" stroke-width="0.28">+</text>
<text x="461.20" y="335.60" font-size="6.2" text-anchor="middle" fill="#111" stroke="#111" stroke-width="0.28">+</text>
<text x="425.00" y="342.60" font-size="7" text-anchor="middle" fill="#111" stroke="#111" stroke-width="0.28">–</text>
<text x="439.70" y="343.40" font-size="7" text-anchor="middle" fill="#111" stroke="#111" stroke-width="0.28">wt</text>
<text x="460.70" y="343.40" font-size="7" text-anchor="middle" fill="#111" stroke="#111" stroke-width="0.28">E255K</text>
<rect x="374.30" y="356.30" width="14.60" height="2.60" rx="1.30" fill="#d4d4d4" opacity="1" filter="url(#b8)"/>
<rect x="391.70" y="356.30" width="15.90" height="2.60" rx="1.30" fill="#d8d8d8" opacity="1" filter="url(#b8)"/>
<linearGradient id="ug1" x1="0" y1="0" x2="0" y2="1"><stop offset="0" stop-color="#9a9a9a"/><stop offset="0.18" stop-color="#cfcfcf"/><stop offset="0.40" stop-color="#cfcfcf"/><stop offset="0.58" stop-color="#050505"/><stop offset="1" stop-color="#050505"/></linearGradient>
<rect x="432.46" y="349.30" width="18.48" height="12.60" rx="6.30" fill="#bbb" opacity="0.11"/>
<rect x="432.78" y="349.70" width="17.84" height="11.80" rx="5.90" fill="#bbb" opacity="0.23"/>
<rect x="433.10" y="350.10" width="17.20" height="11.00" rx="5.50" fill="#bbb" opacity="0.50"/>
<rect x="433.40" y="350.40" width="16.60" height="10.40" rx="2" fill="url(#ug1)"/>
<path d="M434.20,351.90 L434.20,359.30 M449.20,351.90 L449.20,359.30" stroke="#333" stroke-width="1.4" fill="none" opacity="0.8"/>
<linearGradient id="ug2" x1="0" y1="0" x2="0" y2="1"><stop offset="0" stop-color="#9a9a9a"/><stop offset="0.18" stop-color="#d6d6d6"/><stop offset="0.46" stop-color="#d6d6d6"/><stop offset="0.64" stop-color="#0a0a0a"/><stop offset="1" stop-color="#0a0a0a"/></linearGradient>
<rect x="452.46" y="349.50" width="17.48" height="12.10" rx="6.05" fill="#bbb" opacity="0.11"/>
<rect x="452.78" y="349.90" width="16.84" height="11.30" rx="5.65" fill="#bbb" opacity="0.23"/>
<rect x="453.10" y="350.30" width="16.20" height="10.50" rx="5.25" fill="#bbb" opacity="0.50"/>
<rect x="453.40" y="350.60" width="15.60" height="9.90" rx="2" fill="url(#ug2)"/>
<path d="M454.20,352.10 L454.20,359.00 M468.20,352.10 L468.20,359.00" stroke="#444" stroke-width="1.4" fill="none" opacity="0.8"/>
<rect x="373.60" y="369.70" width="14.60" height="3.40" rx="1.70" fill="#b4b4b4" opacity="1" filter="url(#b9)"/>
<rect x="391.70" y="369.90" width="15.30" height="3.00" rx="1.50" fill="#c8c8c8" opacity="1" filter="url(#b9)"/>
<rect x="431.64" y="368.80" width="18.12" height="6.80" rx="3.40" fill="#2a2a2a" opacity="0.22"/>
<rect x="432.12" y="369.40" width="17.16" height="5.60" rx="2.80" fill="#2a2a2a" opacity="0.45"/>
<rect x="432.60" y="370.00" width="16.20" height="4.40" rx="2.20" fill="#2a2a2a" opacity="1.00"/>
<rect x="451.90" y="370.30" width="16.30" height="4.00" rx="2.00" fill="#d0d0d0" opacity="1" filter="url(#b9)"/>
<rect x="373.64" y="388.50" width="17.12" height="7.60" rx="3.80" fill="#b4b4b4" opacity="0.22"/>
<rect x="374.12" y="389.10" width="16.16" height="6.40" rx="3.20" fill="#b4b4b4" opacity="0.45"/>
<rect x="374.60" y="389.70" width="15.20" height="5.20" rx="2.60" fill="#b4b4b4" opacity="1.00"/>
<rect x="392.24" y="388.50" width="18.32" height="7.60" rx="3.80" fill="#ababab" opacity="0.22"/>
<rect x="392.72" y="389.10" width="17.36" height="6.40" rx="3.20" fill="#ababab" opacity="0.45"/>
<rect x="393.20" y="389.70" width="16.40" height="5.20" rx="2.60" fill="#ababab" opacity="1.00"/>
<rect x="432.30" y="388.50" width="16.30" height="4.60" rx="2.30" fill="#333" opacity="1" filter="url(#b8)"/>
<rect x="442.00" y="388.65" width="6.60" height="3.50" rx="1.75" fill="#111" opacity="1" filter="url(#b6)"/>
<rect x="452.70" y="389.10" width="16.30" height="4.20" rx="2.10" fill="#d0d0d0" opacity="1" filter="url(#b9)"/>
<rect x="374.30" y="405.70" width="14.60" height="3.60" rx="1.80" fill="#cfcfcf" opacity="1" filter="url(#b9)"/>
<rect x="393.70" y="405.70" width="13.90" height="3.60" rx="1.80" fill="#d6d6d6" opacity="1" filter="url(#b9)"/>
<rect x="432.30" y="404.50" width="17.90" height="5.20" rx="2.60" fill="#050505" opacity="1" filter="url(#b7)"/>
<rect x="451.90" y="404.50" width="17.90" height="5.20" rx="2.60" fill="#080808" opacity="1" filter="url(#b7)"/>
<rect x="353.6" y="348.80" width="118.7" height="12.30" fill="none" stroke="#333" stroke-width="1.1"/>
<line x1="412.50" y1="348.30" x2="412.50" y2="361.60" stroke="#333" stroke-width="1.1"/>
<rect x="353.6" y="365.00" width="118.7" height="12.40" fill="none" stroke="#333" stroke-width="1.1"/>
<line x1="412.50" y1="364.50" x2="412.50" y2="377.90" stroke="#333" stroke-width="1.1"/>
<rect x="353.6" y="384.90" width="118.7" height="12.10" fill="none" stroke="#333" stroke-width="1.1"/>
<line x1="412.50" y1="384.40" x2="412.50" y2="397.50" stroke="#333" stroke-width="1.1"/>
<rect x="353.6" y="401.50" width="118.7" height="11.50" fill="none" stroke="#333" stroke-width="1.1"/>
<line x1="412.50" y1="401.00" x2="412.50" y2="413.50" stroke="#333" stroke-width="1.1"/>
<path d="M348.20000000000005,350.6 L346.20000000000005,350.6 Q345.6,350.6 345.6,351.40000000000003 L345.6,361.90000000000003 Q345.6,362.8 342.8,363.1 Q345.6,363.40000000000003 345.6,364.3 L345.6,374.8 Q345.6,375.6 346.20000000000005,375.6 L348.20000000000005,375.6" fill="none" stroke="#111" stroke-width="1.4"/>
<path d="M347.5,385.4 L345.5,385.4 Q344.9,385.4 344.9,386.2 L344.9,397.09999999999997 Q344.9,397.99999999999994 342.09999999999997,398.29999999999995 Q344.9,398.59999999999997 344.9,399.49999999999994 L344.9,410.4 Q344.9,411.2 345.5,411.2 L347.5,411.2" fill="none" stroke="#111" stroke-width="1.4"/>
<text x="339.30" y="365.20" font-size="7" text-anchor="end" fill="#222" stroke="#222" stroke-width="0.28">IP: HA</text>
<text x="339.10" y="400.60" font-size="7" text-anchor="end" fill="#222" stroke="#222" stroke-width="0.28">IP: Flag</text>
<text x="487.20" y="358.90" font-size="7" text-anchor="middle" fill="#111" stroke="#111" stroke-width="0.28">A20</text>
<text x="487.20" y="374.10" font-size="7" text-anchor="middle" fill="#111" stroke="#111" stroke-width="0.28">ABIN-2</text>
<text x="488.80" y="392.70" font-size="7" text-anchor="middle" fill="#111" stroke="#111" stroke-width="0.28">A20</text>
<text x="488.80" y="408.70" font-size="7" text-anchor="middle" fill="#111" stroke="#111" stroke-width="0.28">ABIN-2</text>
<line x1="375.80" y1="424.50" x2="375.80" y2="475.40" stroke="#777" stroke-width="1"/>
<line x1="375.80" y1="475.40" x2="468.00" y2="475.40" stroke="#555" stroke-width="1.3"/>
<line x1="374.00" y1="475.40" x2="375.80" y2="475.40" stroke="#777" stroke-width="1"/>
<text x="367.00" y="477.70" font-size="7" text-anchor="end" font-family='"Liberation Serif", "Times New Roman", serif' fill="#222" stroke="#222" stroke-width="0.3">0.0</text>
<line x1="374.00" y1="458.43" x2="375.80" y2="458.43" stroke="#777" stroke-width="1"/>
<text x="367.00" y="460.73" font-size="7" text-anchor="end" font-family='"Liberation Serif", "Times New Roman", serif' fill="#222" stroke="#222" stroke-width="0.3">0.5</text>
<line x1="374.00" y1="441.47" x2="375.80" y2="441.47" stroke="#777" stroke-width="1"/>
<text x="367.00" y="443.77" font-size="7" text-anchor="end" font-family='"Liberation Serif", "Times New Roman", serif' fill="#222" stroke="#222" stroke-width="0.3">1.0</text>
<line x1="374.00" y1="424.50" x2="375.80" y2="424.50" stroke="#777" stroke-width="1"/>
<text x="367.00" y="426.80" font-size="7" text-anchor="end" font-family='"Liberation Serif", "Times New Roman", serif' fill="#222" stroke="#222" stroke-width="0.3">1.5</text>
<text transform="translate(341.3,452.5) rotate(-90)" font-size="6.8" text-anchor="middle" fill="#222" stroke="#222" stroke-width="0.28"><tspan x="0" y="-1">A20-binding</tspan><tspan x="0" y="6.3">capacity</tspan></text>
<rect x="393.20" y="441.30" width="8.90" height="34.10" fill="#5c5c5c" stroke="#4a4a4a" stroke-width="0.7"/>
<line x1="395.00" y1="441.50" x2="400.30" y2="441.50" stroke="#111" stroke-width="1.2"/>
<rect x="436.10" y="464.60" width="9.50" height="10.80" fill="#5c5c5c" stroke="#4a4a4a" stroke-width="0.7"/>
<line x1="440.90" y1="463.40" x2="440.90" y2="465.30" stroke="#111" stroke-width="1.3"/>
<line x1="438.10" y1="463.40" x2="443.70" y2="463.40" stroke="#111" stroke-width="1.3"/>
<line x1="438.10" y1="465.30" x2="443.70" y2="465.30" stroke="#111" stroke-width="1.3"/>
<path d="M397.2,437.6 L397.2,433.8 L442.1,433.8 L442.1,444.8" fill="none" stroke="#111" stroke-width="1.3"/>
<text x="421.40" y="434.64" font-size="11" text-anchor="middle" fill="#111" stroke="#111" stroke-width="0.35">*</text>
<text x="400.40" y="485.20" font-size="6.8" text-anchor="middle" fill="#222" stroke="#222" stroke-width="0.28">ABIN-2 wt</text>
<text x="448.00" y="485.20" font-size="6.7" text-anchor="middle" fill="#222" stroke="#222" stroke-width="0.28">Mut E255K</text>
</svg>
</body></html>
